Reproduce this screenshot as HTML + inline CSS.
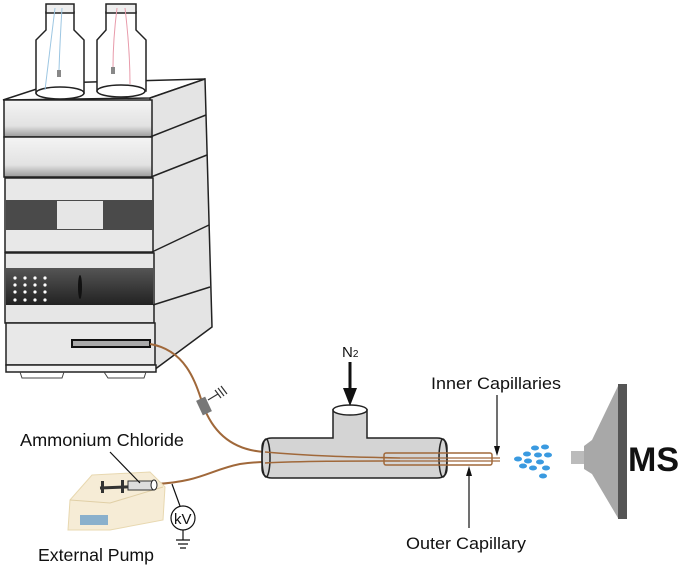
<!DOCTYPE html>
<html><head><meta charset="utf-8"><style>
html,body{margin:0;padding:0;background:#fff;}
svg{display:block;font-family:"Liberation Sans",sans-serif;}
</style></head><body>
<svg width="685" height="566" viewBox="0 0 685 566" xmlns="http://www.w3.org/2000/svg">
<defs>
<linearGradient id="pan" x1="0" y1="0" x2="0" y2="1">
<stop offset="0" stop-color="#f4f4f4"/><stop offset="0.7" stop-color="#e2e2e2"/><stop offset="1" stop-color="#9a9a9a"/></linearGradient>
<linearGradient id="dark" x1="0" y1="0" x2="0" y2="1">
<stop offset="0" stop-color="#555"/><stop offset="1" stop-color="#222"/></linearGradient>
</defs>
<!-- LC stack -->
<g stroke="#222" stroke-width="1.5">
<path d="M3 100 L150 98 L205 79 L55 83 Z" fill="#fff"/>
<path d="M150 98 L205 79 L212 327 L154 370 Z" fill="#e4e4e4"/>
<rect x="4" y="100" width="148" height="37" fill="url(#pan)"/>
<rect x="4" y="137" width="148" height="40" fill="url(#pan)"/>
<rect x="5" y="178" width="148" height="74" fill="#e8e8e8"/>
<rect x="5" y="253" width="149" height="70" fill="#e6e6e6"/>
<rect x="6" y="323" width="149" height="42" fill="#e8e8e8"/>
<rect x="6" y="365" width="150" height="7" fill="#f4f4f4"/>
<path d="M150 137 L206 115 M151 177 L207 155 M152 252 L209 225 M153 305 L210 287"/>
</g>
<!-- bottles -->
<g fill="#fff" stroke="#222" stroke-width="1.5">
<path d="M46 12 L46 30 L36 40 L36 93 L84 93 L84 40 L74 30 L74 12 Z"/>
<rect x="46" y="4" width="28" height="9" fill="#eee"/>
<ellipse cx="60" cy="93" rx="24" ry="6"/>
<path d="M106 12 L106 30 L97 40 L97 91 L146 91 L146 40 L136 30 L136 12 Z"/>
<rect x="106" y="4" width="30" height="9" fill="#eee"/>
<ellipse cx="121" cy="91" rx="24" ry="6"/>
</g>
<path d="M55 8 Q50 50 45 90" stroke="#9cc6e2" fill="none"/>
<path d="M62 8 Q60 40 59 70" stroke="#9cc6e2" fill="none"/>
<path d="M125 8 Q130 50 130 84" stroke="#e89aaa" fill="none"/>
<path d="M117 8 Q113 40 113 67" stroke="#e89aaa" fill="none"/>
<rect x="57" y="70" width="4" height="7" fill="#888"/>
<rect x="111" y="67" width="4" height="7" fill="#888"/>
<rect x="6" y="200" width="148" height="30" fill="#4a4a4a"/>
<rect x="57" y="201" width="46" height="28" fill="#e6e6e6"/>
<rect x="6" y="268" width="147" height="37" fill="url(#dark)"/>
<ellipse cx="80" cy="287" rx="2" ry="12" fill="#111"/>
<g fill="#fff">
<circle cx="15" cy="278" r="1.6"/><circle cx="25" cy="278" r="1.6"/><circle cx="35" cy="278" r="1.6"/><circle cx="45" cy="278" r="1.6"/>
<circle cx="15" cy="285" r="1.6"/><circle cx="25" cy="285" r="1.6"/><circle cx="35" cy="285" r="1.6"/><circle cx="45" cy="285" r="1.6"/>
<circle cx="15" cy="292" r="1.6"/><circle cx="25" cy="292" r="1.6"/><circle cx="35" cy="292" r="1.6"/><circle cx="45" cy="292" r="1.6"/>
<circle cx="15" cy="300" r="1.6"/><circle cx="25" cy="300" r="1.6"/><circle cx="35" cy="300" r="1.6"/><circle cx="45" cy="300" r="1.6"/>
</g>
<rect x="72" y="340" width="78" height="7" fill="#aaa" stroke="#111" stroke-width="2"/>
<path d="M20 372 L22 378 L62 378 L64 372 M104 372 L108 378 L144 378 L146 372" fill="none" stroke="#444"/>
<!-- tubing outside tee -->
<g fill="none" stroke="#a0683a" stroke-width="2">
<path d="M150 344 C185 350 195 380 203 405 C212 430 230 450 265 452"/>
<path d="M155 484 C200 482 210 470 240 464 C255 462 262 462 265 462"/>
</g>
<rect x="199" y="398" width="10" height="16" fill="#777" transform="rotate(-25 204 406)"/>
<path d="M208 400 L218 394 M215 390 L221 398 M218 388 L224 396 M221 386 L227 394" stroke="#333" stroke-width="1.2"/>
<!-- tee -->
<g stroke="#222" stroke-width="1.5" fill="#d4d4d4">
<path d="M333 438 L333 410 L367 410 L367 438 L437 438 Q447 438 447 448 L447 468 Q447 478 437 478 L272 478 Q262 478 262 468 L262 448 Q262 438 272 438 Z"/>
<ellipse cx="350" cy="410" rx="17" ry="5" fill="#fff"/>
<ellipse cx="266" cy="458" rx="4" ry="19" fill="none"/>
<ellipse cx="443" cy="458" rx="4" ry="19" fill="none"/>
</g>
<g fill="none" stroke="#a0683a">
<path d="M265 452 C310 456 350 457 400 458" stroke-width="1.6"/>
<path d="M265 463 C300 461 350 461 400 461" stroke-width="1.6"/>
<rect x="384" y="453" width="108" height="12" rx="2" stroke-width="1.5"/>
<path d="M400 458 L500 458 M400 461 L500 461" stroke-width="1.3"/>
</g>
<!-- N2 arrow -->
<path d="M350 362 L350 390" stroke="#111" stroke-width="3"/>
<path d="M343 388 L357 388 L350 406 Z" fill="#111"/>
<text x="342" y="357" font-size="15" fill="#111">N<tspan font-size="10">2</tspan></text>
<!-- labels -->
<text x="431" y="389" font-size="17" fill="#111" textLength="130" lengthAdjust="spacingAndGlyphs">Inner Capillaries</text>
<path d="M497 395 L497 448" stroke="#111" stroke-width="1.2"/>
<path d="M494 446 L500 446 L497 456 Z" fill="#111"/>
<text x="406" y="549" font-size="17" fill="#111" textLength="120" lengthAdjust="spacingAndGlyphs">Outer Capillary</text>
<path d="M469 528 L469 474" stroke="#111" stroke-width="1.2"/>
<path d="M466 476 L472 476 L469 466 Z" fill="#111"/>
<!-- droplets -->
<g fill="#3a9ae0">
<ellipse cx="535" cy="448" rx="4" ry="2.5"/><ellipse cx="545" cy="447" rx="4" ry="2.5"/>
<ellipse cx="527" cy="454" rx="4" ry="2.5"/><ellipse cx="538" cy="455" rx="4" ry="2.5"/><ellipse cx="548" cy="455" rx="4" ry="2.5"/>
<ellipse cx="518" cy="459" rx="4" ry="2.5"/><ellipse cx="528" cy="461" rx="4" ry="2.5"/><ellipse cx="540" cy="462" rx="4" ry="2.5"/>
<ellipse cx="523" cy="466" rx="4" ry="2.5"/><ellipse cx="533" cy="468" rx="4" ry="2.5"/><ellipse cx="546" cy="468" rx="4" ry="2.5"/>
<ellipse cx="543" cy="476" rx="4" ry="2.5"/>
</g>
<!-- MS -->
<rect x="571" y="451" width="14" height="13" fill="#bbb"/>
<path d="M584 446 L592 440 L618 386 L618 518 L592 474 L584 469 Z" fill="#a8a8a8"/>
<rect x="618" y="384" width="9" height="135" fill="#555"/>
<text x="628" y="471" font-size="34" font-weight="bold" fill="#111">MS</text>
<!-- pump -->
<path d="M92 475 L150 472 L165 487 L163 520 L110 530 L68 530 L70 500 Z" fill="#f6ecd6" stroke="#e8d8b0"/>
<path d="M70 500 L110 503 L163 487" fill="none" stroke="#e0cfa6"/>
<rect x="80" y="515" width="28" height="10" fill="#8ab0cc"/>
<path d="M100 488 L150 486" stroke="#333" stroke-width="3"/>
<rect x="128" y="481" width="25" height="9" fill="#ddd" stroke="#333"/>
<rect x="101" y="481" width="3" height="12" fill="#333"/>
<rect x="121" y="480" width="3" height="13" fill="#333"/>
<ellipse cx="154" cy="485" rx="3" ry="5" fill="#fff" stroke="#222"/>
<text x="20" y="446" font-size="17.5" fill="#111" textLength="164" lengthAdjust="spacingAndGlyphs">Ammonium Chloride</text>
<path d="M110 452 L140 483" stroke="#111" stroke-width="1.2"/>
<path d="M172 484 L180 506" stroke="#111" stroke-width="1.2"/>
<circle cx="183" cy="518" r="12" fill="#fff" stroke="#111" stroke-width="1.2"/>
<text x="174" y="524" font-size="15" fill="#111">kV</text>
<path d="M183 530 L183 540 M176 540 L190 540 M178 544 L188 544 M180 548 L186 548" stroke="#111" stroke-width="1.2"/>
<text x="38" y="561" font-size="17.5" fill="#111" textLength="116" lengthAdjust="spacingAndGlyphs">External Pump</text>
</svg>
</body></html>
